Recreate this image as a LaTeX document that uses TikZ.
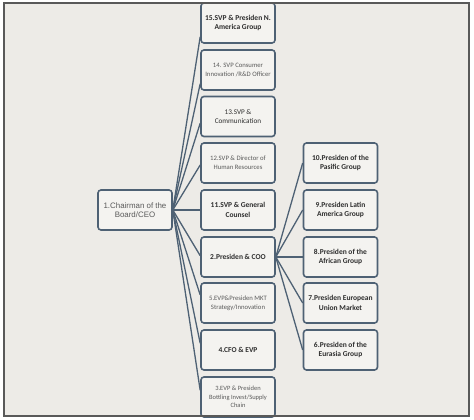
\documentclass[tikz,border=0pt]{standalone}
\usepackage{fontspec}
\setmainfont{Carlito}
\newfontfamily\ceofont{Liberation Sans}
\definecolor{frameline}{HTML}{4E6174}
\definecolor{boxfill}{HTML}{F4F3F0}
\definecolor{backfill}{HTML}{EDEBE7}
\definecolor{darktext}{HTML}{2E2E2E}
\definecolor{lighttext}{HTML}{5A5A5A}
\begin{document}
\begin{tikzpicture}[x=1pt,y=-1pt,
  box/.style={draw=frameline,fill=boxfill,line width=1.6pt,rounded corners=3pt,
    minimum width=74pt,minimum height=40pt,inner sep=1pt,align=center},
  boldbox/.style={box,font=\fontsize{7.5}{9.4}\selectfont\bfseries,text=darktext},
  lightbox/.style={box,font=\fontsize{6.7}{9}\selectfont,text=lighttext},
  link/.style={draw=frameline,line width=1.3pt}]
\useasboundingbox (0,0) rectangle (474,420);
\fill[white] (0,0) rectangle (474,420);
\fill[backfill] (4,3) rectangle (469,416);

\node[box,font=\ceofont\fontsize{7.9}{9.6}\selectfont,text=lighttext] (n1) at (135,210) {1.Chairman of the\\Board/CEO};

\node[boldbox] (n15) at (238,23) {15.SVP \& Presiden N.\\America Group};
\node[lightbox] (n14) at (238,70) {14. SVP Consumer\\Innovation /R\&D Officer};
\node[boldbox,font=\fontsize{7.2}{9.4}\selectfont] (n13) at (238,116.5) {13.SVP \&\\Communication};
\node[lightbox] (n12) at (238,163) {12.SVP \& Director of\\Human Resources};
\node[boldbox] (n11) at (238,210) {11.SVP \& General\\Counsel};
\node[boldbox] (n2) at (238,257) {2.Presiden \& COO};
\node[lightbox] (n5) at (238,303) {5.EVP\&Presiden MKT\\Strategy/Innovation};
\node[boldbox] (n4) at (238,350) {4.CFO \& EVP};
\node[lightbox,font=\fontsize{6.5}{8.3}\selectfont] (n3) at (238,397) {3.EVP \& Presiden\\Bottling Invest/Supply\\Chain};

\node[boldbox] (n10) at (340.5,163) {10.Presiden of the\\Pasific Group};
\node[boldbox] (n9) at (340.5,210) {9.Presiden Latin\\America Group};
\node[boldbox] (n8) at (340.5,257) {8.Presiden of the\\African Group};
\node[boldbox] (n7) at (340.5,303) {7.Presiden European\\Union Market};
\node[boldbox] (n6) at (340.5,350) {6.Presiden of the\\Eurasia Group};

\draw[link] (n1.east) -- (n15.200);
\draw[link] (n1.east) -- (n14.200);
\draw[link] (n1.east) -- (n13.190);
\draw[link] (n1.east) -- (n12.183);
\draw[link] (n1.east) -- (n11.west);
\draw[link] (n1.east) -- (n2.178);
\draw[link] (n1.east) -- (n5.168);
\draw[link] (n1.east) -- (n4.170);
\draw[link] (n1.east) -- (n3.170);

\draw[link] (n2.east) -- (n10.west);
\draw[link] (n2.east) -- (n9.west);
\draw[link] (n2.east) -- (n8.west);
\draw[link] (n2.east) -- (n7.west);
\draw[link] (n2.east) -- (n6.west);

\draw[draw=black!65,line width=2pt] (4,3) rectangle (469,416);
\end{tikzpicture}
\end{document}
